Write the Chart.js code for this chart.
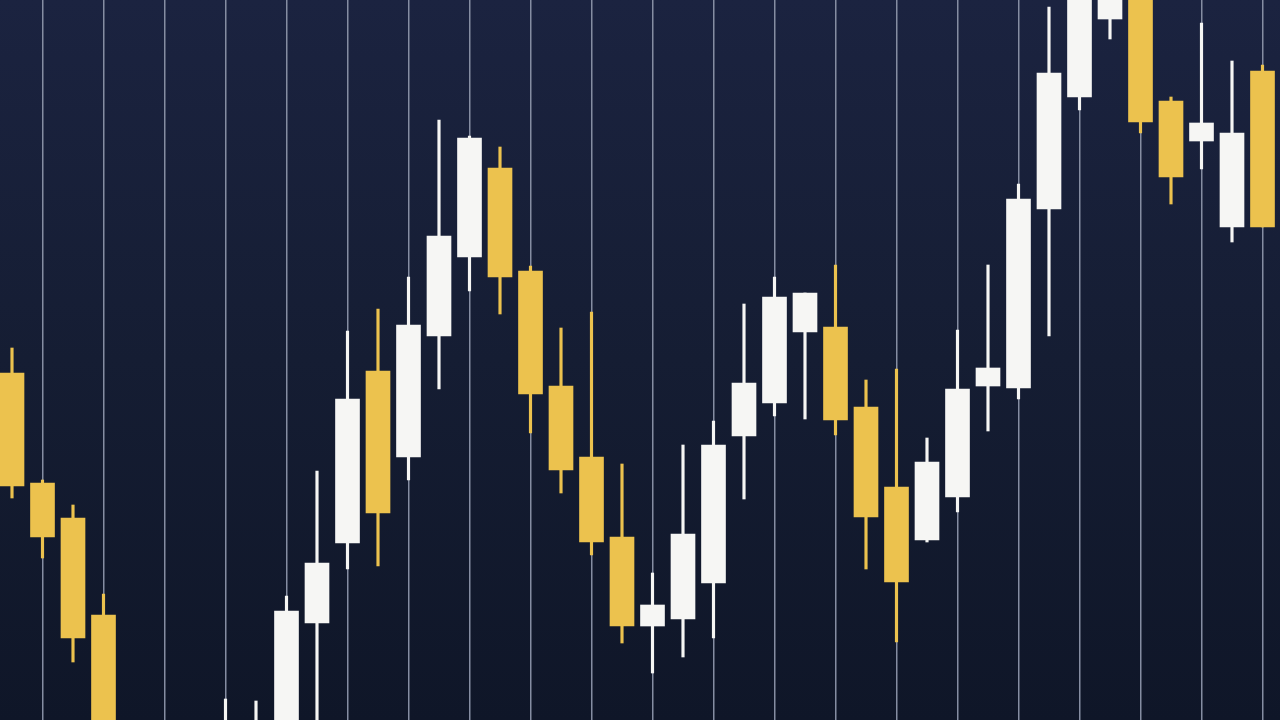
<!DOCTYPE html>
<html lang="en">
<head>
    <meta charset="UTF-8">
    <meta name="viewport" content="width=device-width, initial-scale=1.0">
    <title>Velas</title>
    <script src="https://cdn.jsdelivr.net/npm/chart.js"></script>
    <style>
        html, body { margin: 0; padding: 0; }
        body {
            width: 1280px; height: 720px; overflow: hidden;
            background: linear-gradient(180deg, #1b2340 0%, #151d33 50%, #0f1628 100%);
        }
        #contenedor { position: relative; width: 1280px; height: 720px; }
    </style>
</head>
<body>
    <div id="contenedor">
        <canvas id="myChart"></canvas>
    </div>

    <script>
// Datos de las velas (índice 0 = vela de la izquierda). null = fuera de la imagen
const apertura = [347, 237, 202, 105, null, null, null, -60, -60, -40, 97, 177, 349, 263, 384, 463, 552, 449, 334, 263,
    183, 94, 101, 137, 284, 317, 388, 393, 313, 233, 180, 223, 334, 332, 511, 623, 701, 750, 619, 579, 493, 649];
const maximo = [372, 240, 215, 126, null, null, null, 21, 19, 124, 249, 389, 411, 443, 600, 584, 573, 454, 392, 408,
    256, 147, 275, 299, 416, 443, 427, 455, 340, 351, 282, 390, 455, 536, 713, 760, 745, 760, 623, 697, 659, 655];
const minimo = [222, 162, 58, -50, null, null, null, -70, -70, -60, -10, 151, 154, 240, 331, 429, 406, 287, 227, 165,
    77, 47, 63, 82, 221, 304, 301, 285, 151, 78, 178, 208, 289, 321, 384, 610, 681, 587, 516, 551, 478, 493];
const cierre = [234, 183, 82, -30, null, null, null, -5, -5, 109, 157, 321, 207, 395, 484, 582, 443, 326, 250, 178,
    94, 115, 186, 275, 337, 423, 427, 300, 203, 138, 258, 331, 352, 521, 647, 740, 735, 598, 543, 597, 587, 493];

const colorAlcista = "#f6f6f4";
const colorBajista = "#ecc24e";
const colorRejilla = "#858da2";

function prepararConfiguracion() {
const indices = apertura.map((_, i) => i);
const colores = indices.map((i) => (apertura[i] !== null && apertura[i] > cierre[i]) ? colorBajista : colorAlcista);

const cuerpos = indices.map((i) => ({ x: i, y: apertura[i] === null ? null : [apertura[i], cierre[i]] }));
const mechas = indices.map((i) => ({ x: i, y: maximo[i] === null ? null : [minimo[i], maximo[i]] }));

const config = {
type: "bar",
data: {
datasets: [
{
label: "Cuerpo",
data: cuerpos,
backgroundColor: colores,
borderWidth: 0,
barThickness: 24,
grouped: false,
order: 0
},
{
label: "Mecha",
data: mechas,
backgroundColor: colores,
borderWidth: 0,
barThickness: 2.5,
grouped: false,
order: 1
}
]
},
options: {
responsive: true,
maintainAspectRatio: false,
animation: false,
layout: { padding: 0 },
plugins: {
legend: { display: false },
tooltip: { enabled: false }
},
scales: {
x: {
type: "linear",
min: -12 / 30.5,
max: 1268 / 30.5,
offset: false,
border: { display: false },
ticks: { display: false },
grid: { color: colorRejilla, lineWidth: 1.5, offset: false, drawTicks: false, tickLength: 0 },
afterBuildTicks: (escala) => {
const marcas = [];
for (let v = 1; v <= 41; v += 2) marcas.push({ value: v });
escala.ticks = marcas;
}
},
y: {
display: false,
min: 0,
max: 720
}
}
}
};
return config;
}

function renderGrafica() {
const config = prepararConfiguracion();
const chartDOM = document.getElementById("myChart");
new Chart(chartDOM, config);
}
renderGrafica();
    </script>
</body>
</html>
